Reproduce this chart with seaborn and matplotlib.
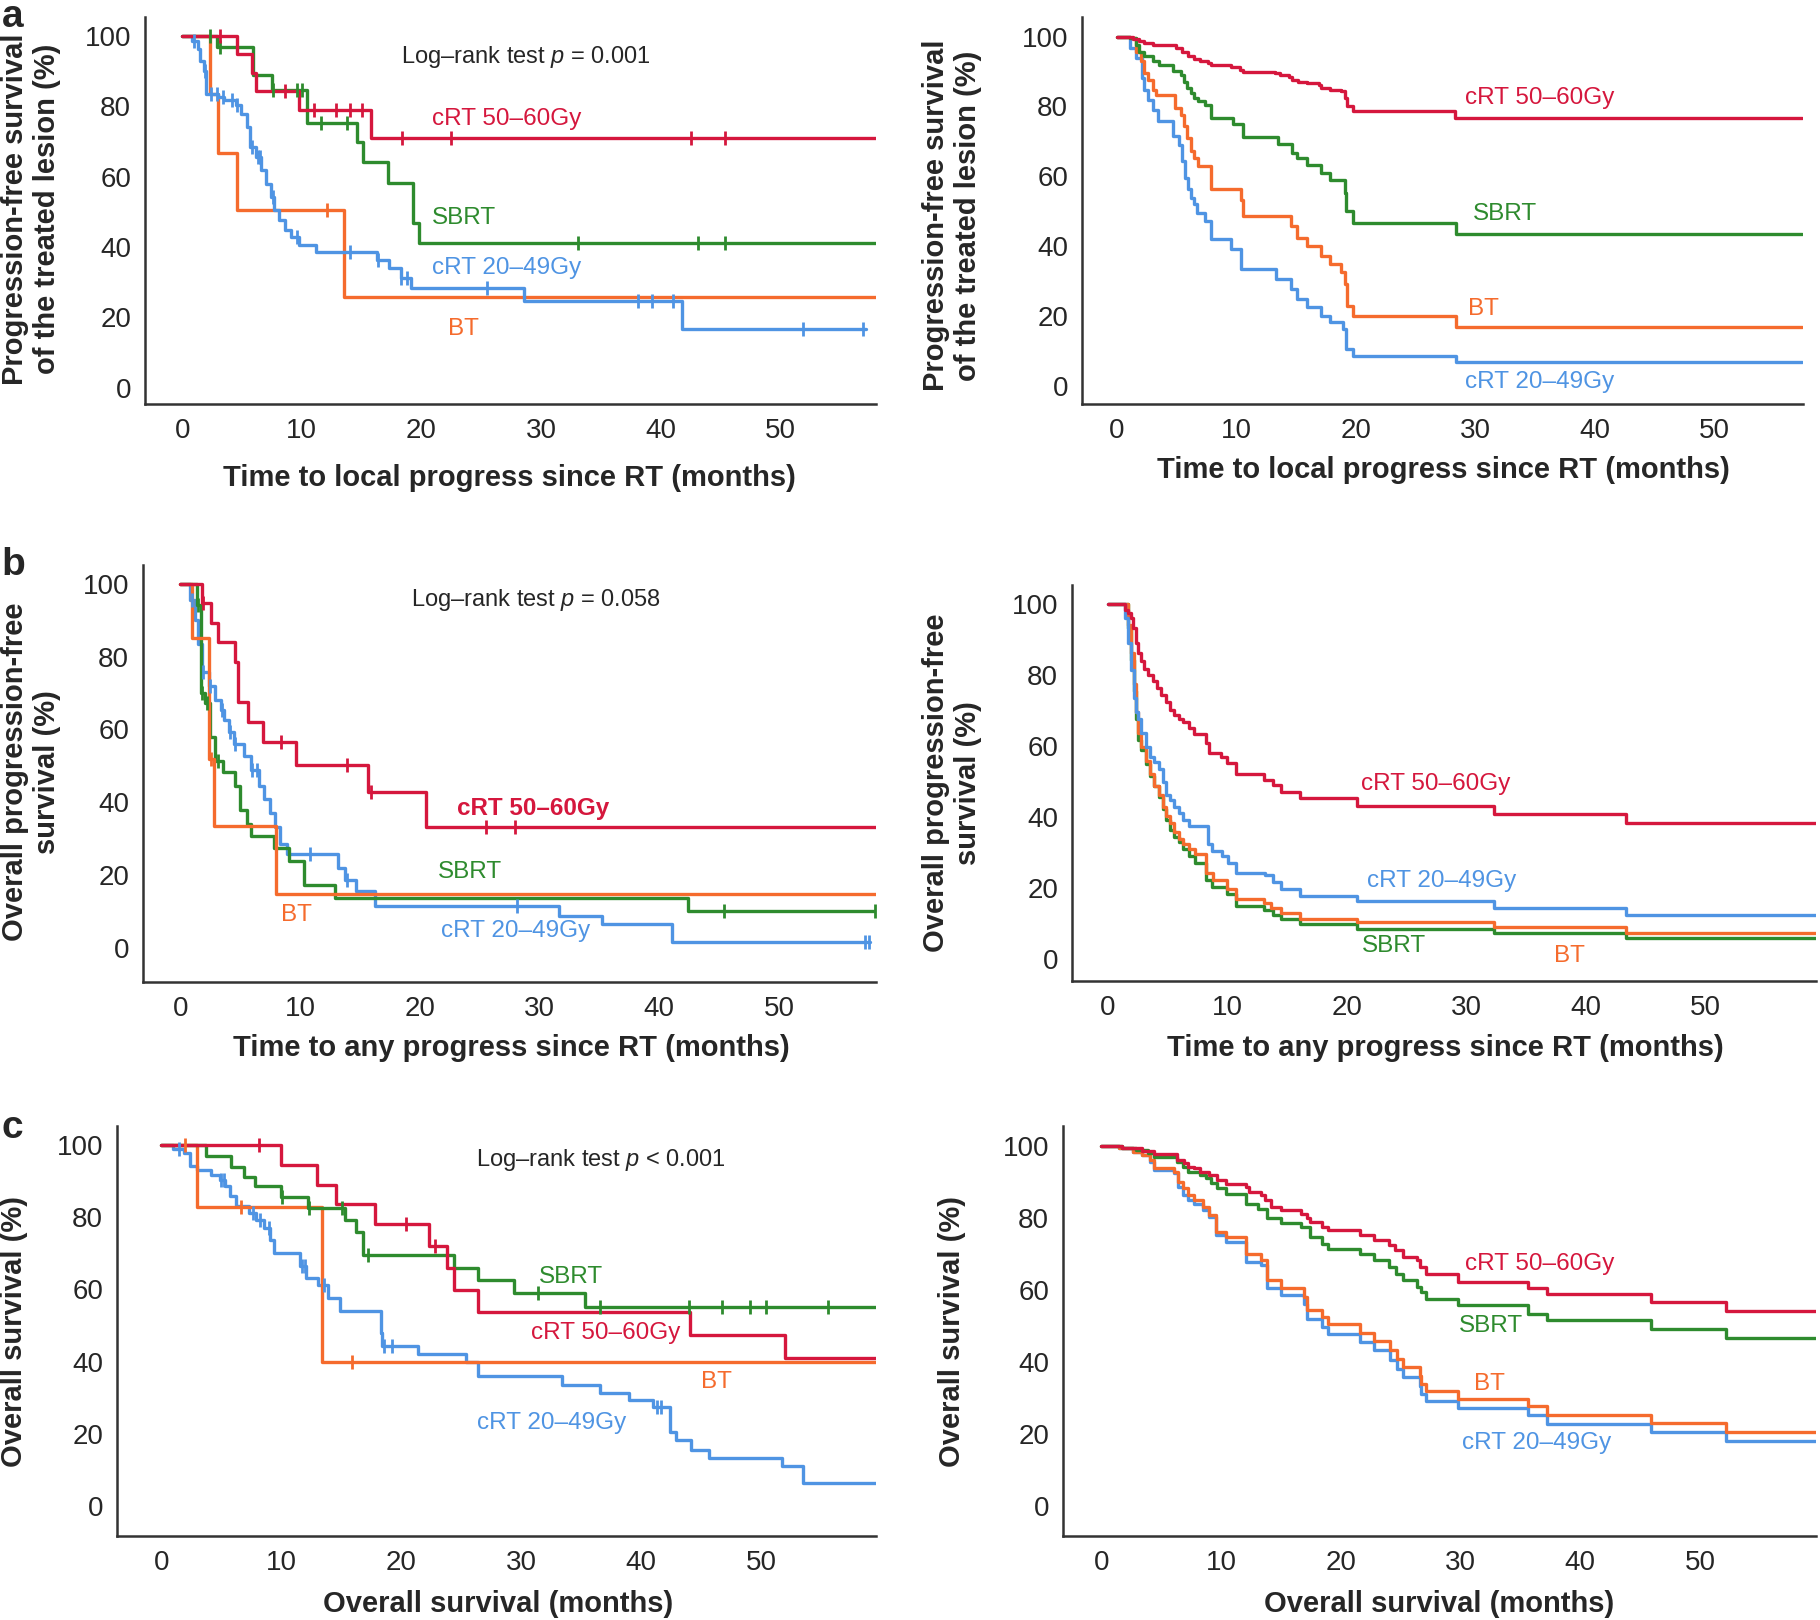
import numpy as np
import matplotlib
matplotlib.use('Agg')
import matplotlib.pyplot as plt
import seaborn as sns

# ---- colours / group names ----
RED = '#d5173d'
GREEN = '#2e8b2e'
BLUE = '#4f94e3'
ORANGE = '#f56b2d'
LBL_HI = 'cRT 50–60Gy'
LBL_LO = 'cRT 20–49Gy'
LBL_SB = 'SBRT'
LBL_BT = 'BT'

# ---- a, left: local progress (lesion level) ----
a1_red_t = [4.6, 5.8, 6.2, 9.8, 15.8]
a1_red_s = [94.8, 89.3, 84.2, 78.8, 70.9]
a1_red_c = [3.2, 8.6, 11.0, 12.9, 14.0, 15.0, 18.4, 22.5, 42.5, 45.4]
a1_green_t = [2.9, 5.9, 7.5, 10.4, 14.6, 15.1, 17.2, 19.3, 19.8]
a1_green_s = [96.7, 88.7, 84.6, 75.3, 69.8, 64.0, 58.2, 46.7, 41.0]
a1_green_c = [2.3, 3.2, 7.6, 9.6, 10.0, 11.6, 13.8, 33.1, 43.1, 45.4]
a1_orange_t = [2.3, 3.0, 4.6, 13.5]
a1_orange_s = [83.3, 66.8, 50.5, 25.7]
a1_orange_c = [12.1]
a1_blue_t = [0.8, 1.3, 1.5, 1.8, 2.0, 3.0, 3.5, 4.5, 4.9, 5.4, 5.7, 6.2, 6.6, 7.0,
             7.4, 7.7, 8.1, 8.6, 9.1, 9.8, 11.2, 16.3, 17.3, 18.3, 19.1, 28.6, 41.8]
a1_blue_s = [98.6, 96.2, 92.9, 90.1, 83.5, 82.5, 81.6, 80.2, 77.8, 74.1, 68.4, 65.6, 61.8, 58.0,
             54.2, 50.5, 47.6, 44.8, 42.9, 40.6, 38.5, 36.3, 34.0, 31.1, 28.3, 24.7, 16.8]
a1_blue_c = [1.0, 1.9, 2.4, 2.9, 3.4, 4.2, 4.6, 5.8, 6.3, 6.5, 7.6, 9.6, 14.0, 16.4, 18.3,
             18.8, 25.5, 38.1, 39.3, 41.0, 51.9, 56.9]

# ---- a, right ----
a2_red_t = [1.36, 1.84, 2.3, 3.06, 5.0, 5.5, 5.97, 6.45, 6.94, 7.66, 7.9, 9.6, 10.3, 10.6,
            13.2, 13.7, 14.45, 14.7, 15.2, 15.9, 16.9, 17.1, 17.85, 18.8, 19.06, 19.3, 19.8, 28.3]
a2_red_s = [99.3, 98.8, 98.1, 97.6, 96.7, 95.7, 94.3, 93.6, 93.0, 92.4, 91.9, 91.4, 90.5, 89.8,
            89.5, 88.9, 88.3, 87.6, 87.1, 86.7, 86.2, 85.4, 84.8, 84.3, 82.4, 80.0, 78.6, 76.7]
a2_green_t = [1.1, 1.6, 1.84, 2.3, 3.06, 3.54, 4.75, 5.4, 5.6, 5.9, 6.2, 6.45, 6.84, 7.4, 7.9,
              9.75, 10.6, 13.5, 14.7, 15.1, 15.9, 17.1, 17.85, 19.06, 19.15, 19.8, 28.4]
a2_green_s = [99.5, 97.6, 95.7, 94.3, 92.9, 91.9, 90.0, 89.0, 87.1, 85.2, 83.8, 82.4, 81.4, 80.5, 76.7,
              74.8, 71.1, 69.2, 66.7, 65.2, 63.3, 61.0, 59.0, 55.2, 50.0, 46.7, 43.3]
a2_orange_t = [1.1, 1.6, 2.0, 2.3, 2.6, 3.06, 3.3, 4.9, 5.4, 5.6, 5.9, 6.2, 6.45, 6.84, 7.9,
               10.4, 10.6, 14.6, 15.1, 15.9, 17.1, 17.85, 18.8, 19.06, 19.3, 19.8, 28.4]
a2_orange_s = [99.5, 95.7, 92.9, 89.5, 87.6, 84.8, 83.3, 79.5, 77.6, 74.3, 71.0, 67.1, 65.2, 62.9, 56.2,
               53.3, 48.6, 45.7, 42.4, 40.0, 37.1, 34.8, 32.4, 29.0, 22.9, 20.0, 16.7]
a2_blue_t = [1.1, 1.6, 2.1, 2.3, 2.6, 3.06, 3.44, 4.75, 5.2, 5.5, 5.7, 5.97, 6.2, 6.45, 6.7,
             7.4, 7.9, 9.6, 10.4, 13.3, 14.6, 15.1, 15.9, 17.1, 17.85, 18.96, 19.15, 19.8, 28.4]
a2_blue_s = [96.7, 93.8, 88.1, 84.8, 81.9, 79.0, 75.7, 71.4, 69.0, 64.3, 59.5, 56.2, 53.8, 51.9, 49.5,
             47.1, 41.9, 39.0, 33.3, 30.5, 27.6, 24.8, 22.4, 20.0, 18.1, 16.2, 10.5, 8.6, 6.7]

# ---- b, left: any progress ----
b1_red_t = [1.8, 2.6, 3.2, 4.6, 4.8, 5.7, 6.9, 9.7, 15.7, 20.5]
b1_red_s = [94.8, 89.3, 83.9, 78.5, 67.5, 61.9, 56.6, 50.2, 42.7, 33.2]
b1_red_c = [1.9, 8.4, 13.9, 15.9, 25.5, 28.0]
b1_green_t = [1.4, 1.7, 2.1, 2.5, 2.9, 3.6, 4.6, 5.0, 5.6, 5.9, 7.8, 9.1, 10.3, 12.9, 42.4]
b1_green_s = [94.3, 70.1, 67.3, 57.8, 51.2, 48.2, 44.5, 37.9, 34.1, 30.8, 27.5, 23.9, 17.1, 13.6, 10.0]
b1_green_c = [1.5, 1.8, 2.2, 3.2, 45.4, 58.0]
b1_orange_t = [1.0, 2.4, 2.8, 8.0]
b1_orange_s = [85.0, 51.8, 33.4, 14.7]
b1_orange_c = [2.6]
b1_blue_t = [0.8, 1.2, 1.5, 1.8, 2.4, 2.9, 3.4, 3.7, 4.1, 4.5, 5.3, 5.9, 6.6, 7.0, 7.5, 7.9,
             8.3, 8.9, 13.2, 13.8, 14.7, 16.3, 31.6, 35.2, 41.1]
b1_blue_s = [95.7, 90.0, 83.4, 75.8, 72.0, 68.2, 65.4, 62.6, 59.2, 55.9, 52.6, 48.8, 44.4, 40.8, 37.0, 33.2,
             28.4, 25.6, 21.8, 18.5, 15.6, 11.4, 8.8, 6.4, 1.4]
b1_blue_c = [1.0, 1.9, 2.5, 3.5, 4.2, 4.6, 6.0, 6.4, 10.8, 13.9, 28.1, 57.2, 57.5]

# ---- b, right ----
b2_red_t = [1.46, 1.7, 1.94, 2.09, 2.33, 2.52, 2.82, 3.06, 3.4, 3.79, 4.13, 4.47, 4.85, 5.24, 5.58,
            5.92, 6.31, 6.8, 7.18, 8.25, 8.5, 9.47, 9.95, 10.7, 13.1, 13.8, 14.5, 16.1, 20.9, 32.3, 43.4]
b2_red_s = [98.5, 97.6, 96.1, 93.2, 89.2, 86.3, 83.9, 81.9, 80.0, 78.5, 76.5, 74.6, 72.6, 70.2, 68.7,
            67.7, 66.8, 65.3, 63.6, 60.9, 58.0, 57.0, 55.2, 52.1, 50.6, 49.0, 47.2, 45.5, 43.3, 40.9, 38.4]
b2_blue_t = [1.46, 1.7, 1.94, 2.18, 2.33, 2.57, 2.82, 3.16, 3.5, 3.88, 4.27, 4.6, 4.85, 5.24, 5.58,
             5.92, 6.31, 6.8, 8.35, 8.74, 9.6, 10.1, 10.7, 13.2, 13.8, 14.5, 16.1, 20.9, 32.3, 43.4]
b2_blue_s = [96.1, 89.2, 81.4, 73.6, 69.7, 67.7, 63.8, 59.9, 57.0, 55.5, 53.6, 50.1, 46.2, 44.8, 42.8,
             41.3, 39.4, 37.6, 32.6, 30.6, 29.1, 27.2, 24.2, 23.8, 21.8, 19.8, 17.9, 16.4, 14.5, 12.5]
b2_orange_t = [1.7, 1.94, 2.18, 2.33, 2.57, 2.82, 3.16, 3.5, 3.88, 4.27, 4.6, 4.85, 5.24, 5.58, 5.92,
               6.31, 6.8, 7.28, 8.25, 8.83, 9.95, 10.7, 13.1, 13.7, 14.5, 16.1, 20.9, 32.3, 43.4]
b2_orange_s = [94.1, 86.3, 77.5, 69.7, 63.8, 59.9, 56.0, 52.1, 48.7, 46.2, 42.8, 40.4, 38.4, 36.0, 34.0,
               32.6, 31.1, 29.6, 24.2, 22.3, 19.8, 16.9, 15.9, 14.5, 13.2, 11.5, 10.6, 9.1, 7.3]
b2_green_t = [1.7, 1.94, 2.18, 2.33, 2.57, 2.82, 3.16, 3.5, 3.88, 4.27, 4.6, 4.85, 5.24, 5.58, 5.92,
              6.31, 6.8, 7.28, 8.25, 8.74, 9.95, 10.7, 13.1, 13.8, 14.5, 16.1, 20.9, 32.3, 43.4]
b2_green_s = [93.2, 84.4, 75.6, 67.7, 61.9, 58.9, 55.0, 51.6, 48.7, 45.7, 42.3, 39.4, 36.5, 34.5, 33.0,
              31.1, 29.1, 27.2, 22.3, 20.3, 18.4, 15.0, 14.0, 12.5, 11.5, 10.1, 8.6, 7.3, 6.0]

# ---- c, left: overall survival ----
c1_red_t = [10.0, 13.0, 14.6, 17.8, 22.3, 23.8, 24.4, 26.4, 44.1, 52.0]
c1_red_s = [94.5, 89.0, 83.8, 78.3, 72.2, 65.9, 59.9, 53.7, 47.4, 41.1]
c1_red_c = [8.1, 20.4, 22.8]
c1_green_t = [3.7, 5.8, 6.9, 7.8, 10.0, 12.2, 15.3, 16.2, 16.8, 24.4, 26.4, 29.4, 35.3]
c1_green_s = [97.0, 94.0, 91.3, 88.6, 85.7, 82.6, 79.2, 76.0, 69.5, 65.9, 62.5, 59.1, 55.2]
c1_green_c = [10.1, 12.3, 15.1, 17.2, 31.4, 36.6, 44.0, 46.8, 49.1, 50.4, 55.6]
c1_orange_t = [3.0, 13.4]
c1_orange_s = [82.9, 39.9]
c1_orange_c = [2.0, 6.6, 15.9]
c1_blue_t = [1.0, 1.9, 2.4, 3.0, 4.1, 4.9, 5.3, 5.7, 6.2, 7.3, 7.9, 8.6, 9.1, 9.4, 11.6, 12.1, 13.1,
             13.9, 14.9, 18.3, 18.4, 21.4, 25.4, 26.4, 33.4, 36.6, 39.0, 41.0, 42.4, 42.9, 44.2, 45.7,
             51.8, 53.5]
c1_blue_s = [98.9, 98.0, 94.2, 93.1, 91.9, 90.5, 88.7, 85.9, 83.1, 81.2, 79.4, 77.1, 73.8, 70.1, 66.4,
             63.1, 61.3, 57.6, 53.9, 47.8, 44.3, 42.2, 39.9, 35.9, 33.6, 31.4, 29.2, 27.4, 20.4, 18.1,
             15.5, 13.3, 11.0, 6.3]
c1_blue_c = [1.5, 5.0, 5.2, 7.6, 8.2, 9.0, 11.7, 12.0, 13.6, 18.6, 19.2, 41.3, 41.7]

# ---- c, right ----
c2_red_t = [1.7, 3.4, 4.36, 6.3, 6.9, 7.27, 7.75, 8.24, 8.96, 9.7, 10.4, 12.1, 12.35, 13.3, 13.7,
            14.15, 15.0, 16.7, 17.2, 17.4, 18.4, 18.9, 21.6, 22.8, 24.0, 24.5, 25.2, 26.4, 26.6, 27.1,
            29.8, 35.6, 37.2, 45.9, 52.2]
c2_red_s = [99.4, 98.7, 97.8, 96.1, 95.2, 94.2, 93.8, 92.8, 91.9, 90.5, 89.4, 88.7, 87.3, 86.4, 85.1,
            83.1, 82.2, 81.2, 79.9, 78.9, 77.5, 76.6, 75.2, 73.8, 72.4, 71.0, 69.2, 68.2, 66.4, 64.5,
            62.2, 60.4, 59.0, 56.6, 54.1]
c2_green_t = [1.7, 2.9, 3.9, 4.36, 6.3, 6.8, 7.27, 8.24, 8.7, 9.2, 9.7, 10.4, 12.1, 13.1, 13.8,
              15.0, 16.7, 17.4, 18.4, 18.9, 21.6, 22.8, 24.0, 24.6, 25.2, 26.4, 26.7, 27.1, 29.8, 35.6,
              37.2, 45.9, 52.2]
c2_green_s = [99.4, 98.9, 98.1, 97.0, 95.6, 94.2, 92.8, 91.9, 91.0, 89.6, 88.2, 86.8, 84.0, 82.6, 79.9,
              78.5, 77.5, 74.7, 72.9, 71.5, 70.1, 68.2, 66.4, 64.5, 62.7, 60.8, 59.4, 57.6, 55.7, 53.4,
              51.5, 49.2, 46.7]
c2_orange_t = [1.45, 2.66, 3.4, 4.1, 4.36, 6.06, 6.4, 6.8, 7.2, 7.75, 8.5, 8.96, 9.6, 10.4, 12.1,
               13.3, 13.8, 15.0, 16.9, 17.2, 18.4, 18.9, 21.6, 22.8, 24.1, 24.7, 25.2, 26.6, 26.7, 27.1,
               29.8, 35.6, 37.2, 45.9, 52.2]
c2_orange_s = [99.4, 98.4, 97.5, 96.1, 93.8, 92.8, 90.1, 88.2, 86.4, 85.0, 83.1, 80.8, 76.1, 74.7, 70.1,
               68.2, 62.7, 60.4, 58.0, 54.3, 52.5, 50.6, 48.0, 45.8, 43.2, 40.9, 38.5, 36.2, 33.9, 32.0,
               29.7, 27.6, 25.3, 22.9, 20.4]
c2_blue_t = c2_orange_t
c2_blue_s = [99.4, 98.4, 97.5, 95.6, 93.3, 92.4, 88.7, 86.4, 85.0, 84.0, 82.2, 80.4, 75.2, 73.4, 67.8,
             66.9, 60.4, 58.5, 56.2, 52.0, 49.7, 47.8, 45.5, 43.2, 40.4, 38.1, 35.9, 33.4, 31.1, 29.2,
             27.2, 25.1, 22.7, 20.4, 17.9]

x_ticks = [0, 10, 20, 30, 40, 50]
y_ticks = [0, 20, 40, 60, 80, 100]

sns.set_style('white')
plt.rcParams['font.family'] = ['Liberation Sans', 'DejaVu Sans']
plt.rcParams['mathtext.fontset'] = 'custom'
plt.rcParams['mathtext.rm'] = 'Liberation Sans'
plt.rcParams['mathtext.it'] = 'Liberation Sans:italic'


def km(ax, t, s, end, color, censor=None):
    x = np.array([0.0] + list(t) + [end])
    y = np.array([100.0] + list(s) + [s[-1]])
    sns.lineplot(x=x, y=y, ax=ax, color=color, linewidth=2.4,
                 drawstyle='steps-post', estimator=None, sort=False)
    if censor:
        c = np.array(censor)
        cy = y[np.searchsorted(x, c, side='right') - 1]
        sns.scatterplot(x=c, y=cy, ax=ax, marker='|', s=90, color=color,
                        linewidth=2, zorder=5)


def setup(ax, xlim, ylim):
    ax.set_xlim(*xlim)
    ax.set_ylim(*ylim)
    ax.set_xticks(x_ticks)
    ax.set_yticks(y_ticks)
    ax.tick_params(length=0, pad=10, labelsize=20)
    ax.set_xlabel('')
    ax.set_ylabel('')
    for side in ['top', 'right']:
        ax.spines[side].set_visible(False)
    for side in ['left', 'bottom']:
        ax.spines[side].set_color('#333333')
        ax.spines[side].set_linewidth(1.8)


def lab(ax, x, y, text, color, bold=False):
    ax.text(x, y, text, color=color, fontsize=17.5, va='center', ha='left',
            fontweight='bold' if bold else 'normal')


fig = plt.figure(figsize=(18.2, 16.2), dpi=100)

# ---- a left ----
ax = fig.add_axes([0.0797, 0.7506, 0.4016, 0.2389])
km(ax, a1_orange_t, a1_orange_s, 58.0, ORANGE, a1_orange_c)
km(ax, a1_blue_t, a1_blue_s, 57.2, BLUE, a1_blue_c)
km(ax, a1_green_t, a1_green_s, 58.0, GREEN, a1_green_c)
km(ax, a1_red_t, a1_red_s, 58.0, RED, a1_red_c)
setup(ax, (-3.1, 58.0), (-4.6, 105.3))
ax.text(18.3, 94.0, 'Log–rank test $p$ = 0.001', fontsize=17, va='center', ha='left')
lab(ax, 20.9, 76.2, LBL_HI, RED)
lab(ax, 20.9, 48.2, LBL_SB, GREEN)
lab(ax, 20.9, 34.0, LBL_LO, BLUE)
lab(ax, 22.2, 16.8, LBL_BT, ORANGE)

# ---- a right ----
ax = fig.add_axes([0.5945, 0.7506, 0.3962, 0.2389])
km(ax, a2_blue_t, a2_blue_s, 57.3, BLUE)
km(ax, a2_orange_t, a2_orange_s, 57.3, ORANGE)
km(ax, a2_green_t, a2_green_s, 57.3, GREEN)
km(ax, a2_red_t, a2_red_s, 57.3, RED)
setup(ax, (-2.9, 57.4), (-5.3, 105.6))
lab(ax, 29.1, 82.4, LBL_HI, RED)
lab(ax, 29.8, 49.2, LBL_SB, GREEN)
lab(ax, 29.4, 21.9, LBL_BT, ORANGE)
lab(ax, 29.1, 1.0, LBL_LO, BLUE)

# ---- b left ----
ax = fig.add_axes([0.0786, 0.3938, 0.4027, 0.2574])
km(ax, b1_blue_t, b1_blue_s, 57.6, BLUE, b1_blue_c)
km(ax, b1_green_t, b1_green_s, 58.1, GREEN, b1_green_c)
km(ax, b1_orange_t, b1_orange_s, 58.1, ORANGE, b1_orange_c)
km(ax, b1_red_t, b1_red_s, 58.1, RED, b1_red_c)
setup(ax, (-3.1, 58.1), (-9.5, 105.2))
ax.text(19.3, 95.5, 'Log–rank test $p$ = 0.058', fontsize=17, va='center', ha='left')
lab(ax, 23.1, 38.2, LBL_HI, RED, bold=True)
lab(ax, 21.5, 20.7, LBL_SB, GREEN)
lab(ax, 8.4, 8.9, LBL_BT, ORANGE)
lab(ax, 21.8, 4.5, LBL_LO, BLUE)

# ---- b right ----
ax = fig.add_axes([0.589, 0.3944, 0.4088, 0.2444])
km(ax, b2_green_t, b2_green_s, 59.3, GREEN)
km(ax, b2_orange_t, b2_orange_s, 59.3, ORANGE)
km(ax, b2_blue_t, b2_blue_s, 59.3, BLUE)
km(ax, b2_red_t, b2_red_s, 59.3, RED)
setup(ax, (-3.0, 59.3), (-6.1, 105.4))
lab(ax, 21.2, 49.3, LBL_HI, RED)
lab(ax, 21.7, 22.0, LBL_LO, BLUE)
lab(ax, 21.3, 3.7, LBL_SB, GREEN)
lab(ax, 37.4, 1.0, LBL_BT, ORANGE)

# ---- c left ----
ax = fig.add_axes([0.0643, 0.0519, 0.417, 0.2531])
km(ax, c1_blue_t, c1_blue_s, 59.6, BLUE, c1_blue_c)
km(ax, c1_orange_t, c1_orange_s, 59.6, ORANGE, c1_orange_c)
km(ax, c1_green_t, c1_green_s, 59.6, GREEN, c1_green_c)
km(ax, c1_red_t, c1_red_s, 59.6, RED, c1_red_c)
setup(ax, (-3.7, 59.6), (-8.4, 105.4))
ax.text(26.2, 95.8, 'Log–rank test $p$ < 0.001', fontsize=17, va='center', ha='left')
lab(ax, 31.5, 63.4, LBL_SB, GREEN)
lab(ax, 30.8, 47.9, LBL_HI, RED)
lab(ax, 45.0, 34.3, LBL_BT, ORANGE)
lab(ax, 26.3, 23.0, LBL_LO, BLUE)

# ---- c right ----
ax = fig.add_axes([0.5841, 0.0519, 0.4137, 0.2531])
km(ax, c2_blue_t, c2_blue_s, 59.7, BLUE)
km(ax, c2_orange_t, c2_orange_s, 59.7, ORANGE)
km(ax, c2_green_t, c2_green_s, 59.7, GREEN)
km(ax, c2_red_t, c2_red_s, 59.7, RED)
setup(ax, (-3.2, 59.7), (-8.4, 105.6))
lab(ax, 30.4, 67.1, LBL_HI, RED)
lab(ax, 29.9, 50.0, LBL_SB, GREEN)
lab(ax, 31.1, 33.9, LBL_BT, ORANGE)
lab(ax, 30.1, 17.4, LBL_LO, BLUE)

# ---- axis titles ----
yl = dict(rotation=90, ha='center', va='center', fontsize=21, fontweight='bold',
          linespacing=1.2, multialignment='center')
fig.text(0.017, 0.871, 'Progression-free survival\nof the treated lesion (%)', **yl)
fig.text(0.523, 0.867, 'Progression-free survival\nof the treated lesion (%)', **yl)
fig.text(0.017, 0.5235, 'Overall progression-free\nsurvival (%)', **yl)
fig.text(0.523, 0.5167, 'Overall progression-free\nsurvival (%)', **yl)
fig.text(0.0077, 0.1778, 'Overall survival (%)', **yl)
fig.text(0.523, 0.1778, 'Overall survival (%)', **yl)

xl = dict(ha='center', va='center', fontsize=21, fontweight='bold')
fig.text(0.280, 0.705, 'Time to local progress since RT (months)', **xl)
fig.text(0.793, 0.710, 'Time to local progress since RT (months)', **xl)
fig.text(0.281, 0.353, 'Time to any progress since RT (months)', **xl)
fig.text(0.794, 0.353, 'Time to any progress since RT (months)', **xl)
fig.text(0.2736, 0.0099, 'Overall survival (months)', **xl)
fig.text(0.791, 0.0099, 'Overall survival (months)', **xl)

pl = dict(ha='left', va='baseline', fontsize=28, fontweight='bold')
fig.text(0.001, 0.9835, 'a', **pl)
fig.text(0.001, 0.645, 'b', **pl)
fig.text(0.001, 0.2975, 'c', **pl)

fig.savefig('out.png', dpi=100)
